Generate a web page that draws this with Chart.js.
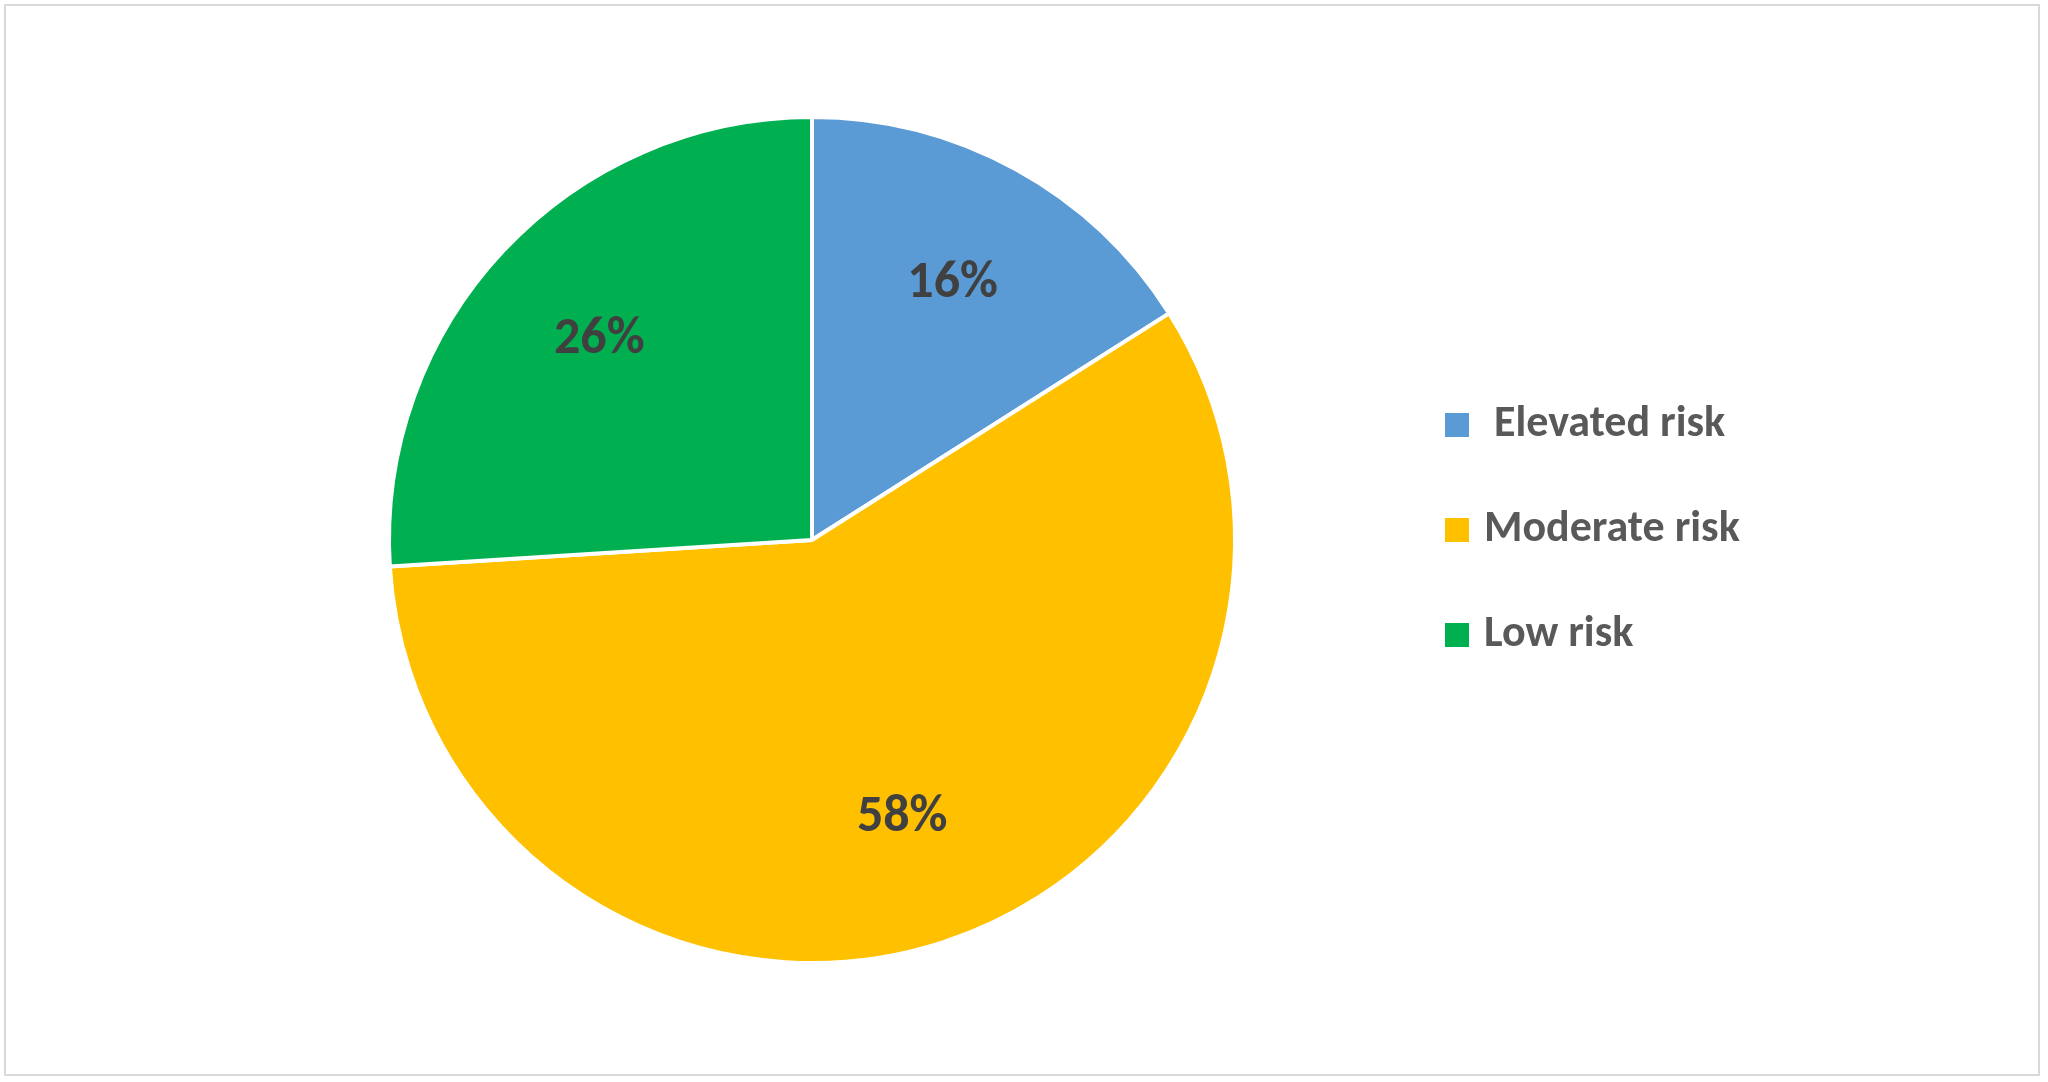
<!DOCTYPE html>
<html><head><meta charset="utf-8">
<script src="https://cdn.jsdelivr.net/npm/chart.js@4/dist/chart.umd.min.js"></script>
<style>html,body{margin:0;padding:0;background:#fff}#wrap{position:absolute;left:0;top:0;width:2048px;height:1082px}
#frame{position:absolute;left:4px;top:4px;width:2036px;height:1072px;border:2px solid #d9d9d9;box-sizing:border-box}</style>
</head><body>
<div id="frame"></div>
<div id="wrap"><canvas id="c" width="2048" height="1082"></canvas></div>
<script>
const categories = ["Elevated risk", "Moderate risk", "Low risk"];
const values = [16, 58, 26];
const colors = ["#5b9bd5", "#ffc000", "#00b050"];

const labelPlugin = {
  id: 'labels',
  afterDatasetsDraw(chart) {
    const ctx = chart.ctx;
    const meta = chart.getDatasetMeta(0);
    ctx.save();
    ctx.font = 'bold 52px Calibri, "Open Sans", sans-serif';
    ctx.fillStyle = '#404040';
    ctx.textAlign = 'center'; ctx.textBaseline = 'middle';
    meta.data.forEach((arc, i) => {
      const mid = (arc.startAngle + arc.endAngle) / 2;
      const r = arc.outerRadius * 0.69;
      ctx.fillText(values[i] + '%', arc.x + Math.cos(mid) * r, arc.y + Math.sin(mid) * r);
    });
    // legend
    ctx.font = 'bold 44px Calibri, "Open Sans", sans-serif';
    ctx.textAlign = 'left';
    categories.forEach((c, i) => {
      const y = 425 + i * 105;
      ctx.fillStyle = colors[i];
      ctx.fillRect(1445, y - 12, 24, 24);
      ctx.fillStyle = '#595959';
      ctx.fillText((i === 0 ? ' ' : '') + c, 1484, y);
    });
    ctx.restore();
  }
};

new Chart(document.getElementById('c'), {
  type: 'pie',
  data: { labels: categories, datasets: [{ data: values, backgroundColor: colors, borderColor: '#ffffff', borderWidth: 4 }] },
  options: {
    responsive: false, animation: false,
    layout: { padding: { left: 387, right: 811, top: 115, bottom: 117 } },
    plugins: { legend: { display: false }, tooltip: { enabled: false } }
  },
  plugins: [labelPlugin]
});
</script>
</body></html>
